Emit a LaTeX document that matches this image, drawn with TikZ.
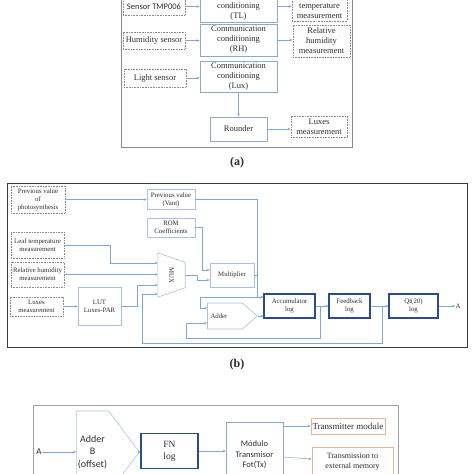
\documentclass[tikz,border=0pt]{standalone}
\usepackage{fontspec}
\setmainfont{Liberation Serif}
\newfontfamily\calibri{Carlito}
\definecolor{FigWire}{HTML}{7FA8D6}
\definecolor{FigEdge}{HTML}{8FA9C6}
\definecolor{FigLightEdge}{HTML}{A9C3DF}
\definecolor{FigNavy}{HTML}{2B4B8A}
\definecolor{FigDots}{HTML}{8C8C8C}
\definecolor{FigTan}{HTML}{E2B795}
\definecolor{FigFrame}{HTML}{8A8A8A}
\definecolor{FigDark}{HTML}{3A3A3A}
\definecolor{FigText}{HTML}{2E2E2E}
\usetikzlibrary{shapes.symbols,arrows.meta,calc,positioning}
\tikzset{
    % Plain boxes
    block/.style={
        rectangle,
        draw=FigEdge,
        line width=0.6pt,
        fill=white,
        text=FigText,
        align=center,
        inner sep=0pt,
        font=\fontsize{8.5}{10}\selectfont
    },
    block small/.style={
        block,
        draw=FigLightEdge,
        font=\fontsize{6.8}{8}\selectfont
    },
    block log/.style={
        block small,
        draw=FigNavy,
        line width=1.1pt
    },
    source/.style={
        block,
        draw=FigDots,
        densely dotted
    },
    source small/.style={
        block small,
        draw=FigDots,
        densely dotted
    },
    output tan/.style={
        block,
        draw=FigTan,
        line width=0.8pt,
        font=\fontsize{9}{11}\selectfont
    },
    adder shape/.style={
        signal,
        signal to=east,
        draw=FigLightEdge,
        line width=0.6pt,
        text=FigText,
        align=center,
        inner sep=0pt
    },
    wire/.style={
        -{Stealth[length=3pt,width=2.6pt]},
        draw=FigWire,
        line width=0.5pt
    },
    plain wire/.style={
        draw=FigWire,
        line width=0.5pt
    },
    caption/.style={
        font=\fontsize{12}{14}\selectfont\bfseries,
        text=FigText
    }
}
\begin{document}
\begin{tikzpicture}[x=1pt, y=-1pt]
    \useasboundingbox (0,0) rectangle (474,474);
    \clip (0,0) rectangle (474,474);

    % ---------- (a) ----------
    \draw[draw=FigFrame, line width=0.8pt] (121,-10) rectangle (352,147);
    \node[source, minimum width=62, minimum height=17, font=\calibri\fontsize{8.5}{10}\selectfont] (tmp) at (154,6.5) {Sensor TMP006};
    \node[source, minimum width=62, minimum height=17] (hum) at (154,40.5) {Humidity sensor};
    \node[source, minimum width=62, minimum height=18] (light) at (155,78) {Light sensor};
    \node[block, minimum width=77, minimum height=26] (condtl) at (238.5,9) {\mbox{}\\conditioning\\(TL)};
    \node[block, minimum width=77, minimum height=32] (condrh) at (238.5,40) {Communication\\conditioning\\(RH)};
    \node[block, minimum width=77, minimum height=31] (condlux) at (238.5,76.5) {Communication\\conditioning\\(Lux)};
    \node[block, minimum width=57, minimum height=24] (rounder) at (238.5,129) {Rounder};
    \node[source, minimum width=55, minimum height=24] (tempm) at (319.5,9) {\mbox{}\\temperature\\measurement};
    \node[source, minimum width=57, minimum height=32] (rhm) at (321.5,41) {Relative\\humidity\\measurement};
    \node[source, minimum width=56, minimum height=21] (luxm) at (319,126.5) {Luxes\\measurement};
    \node[caption] (capa) at (237,163) {(a)};

    \draw[wire] (tmp) -- (tmp -| condtl.west);
    \draw[wire] (hum) -- (hum -| condrh.west);
    \draw[wire] (light) -- (light -| condlux.west);
    \draw[wire] (tmp -| condtl.east) -- (tmp -| tempm.west);
    \draw[wire] (condrh) -- (condrh -| rhm.west);
    \draw[wire] (condlux) -- (rounder);
    \draw[wire] (rounder) -- (rounder -| luxm.west);

    % ---------- (b) ----------
    \draw[draw=FigDark, line width=1pt] (7,183) rectangle (467,347);
    \node[source small, minimum width=54, minimum height=27] (prevph) at (38,199.5) {Previous value\\of\\photosynthesis};
    \node[block small, minimum width=48, minimum height=20] (vant) at (171,199.5) {Previous value\\(Vant)};
    \node[block small, minimum width=48, minimum height=19] (rom) at (171,227.5) {ROM\\Coefficients};
    \node[source small, minimum width=53, minimum height=26] (leaf) at (37.5,245) {Leaf temperature\\measurement};
    \node[source small, minimum width=53, minimum height=25] (rhb) at (37.5,274.5) {Relative humidity\\measurement};
    \node[source small, minimum width=53, minimum height=19] (luxb) at (36.5,306.5) {Luxes\\measurement};
    \node[block small, minimum width=43, minimum height=38] (lut) at (99.5,306.5) {LUT\\Luxes-PAR};
    \node[inner sep=0pt, minimum width=27, minimum height=44] (mux) at (171.5,275) {};
    \draw[draw=FigLightEdge, line width=0.6pt, fill=white] (mux.north west) -- ($(mux.north east)+(0,9.5)$) -- ($(mux.south east)+(0,-9.5)$) -- (mux.south west) -- cycle;
    \node[rotate=-90, text=FigText, font=\fontsize{6.8}{8}\selectfont] at (mux) {MUX};
    \node[block small, minimum width=44, minimum height=24] (mult) at (232,275) {Multiplier};
    \node[adder shape, minimum width=50, minimum height=26, signal pointer angle=82, font=\fontsize{6.8}{8}\selectfont] (adder) at (225,316) {Adder\hspace{12pt}};
    \node[block log, minimum width=51, minimum height=24] (acc) at (289.5,306) {Accumulator\\log};
    \node[block log, minimum width=41, minimum height=24] (fb) at (349.5,306) {Feedback\\log};
    \node[block log, minimum width=49, minimum height=24] (qt) at (413.5,306) {Qt(20)\\log};
    \node[text=FigText, font=\fontsize{6.8}{8}\selectfont, inner sep=0pt] (outa) at (458,306) {A};
    \coordinate (jv) at (257,297);
    \node[caption] (capb) at (237,365) {(b)};

    \draw[wire] (prevph) -- (prevph -| vant.west);
    \draw[wire] (vant.east) -| (jv) -- (jv -| acc.west);
    \draw[plain wire] (mult.east) -- (mult.east -| jv);
    \draw[wire] (jv) -| ($(adder.west)+(-7,-8)$) -- ($(adder.west)+(0,-8)$);
    \draw[wire] (rom.east) -| ($(mult.west)+(-7,-5)$) -- ($(mult.west)+(0,-5)$);
    \draw[wire] (mux.east) -- ++(12,0) |- ($(mult.west)+(0,5)$);
    \draw[wire] (leaf.east) -| ($(mux.west)+(-48,-12)$) -- ($(mux.west)+(0,-12)$);
    \draw[wire] (rhb.east) -- (rhb.east -| mux.west);
    \draw[wire] (lut.east) -| ($(mux.west)+(-21,10)$) -- ($(mux.west)+(0,10)$);
    \draw[wire] (luxb) -- (luxb -| lut.west);
    \draw[wire] (adder.east) -- (adder.east -| acc.west);
    \draw[wire] (acc) -- (fb);
    \draw[wire] (fb) -- (qt);
    \draw[wire] (qt) -- (outa);
    \draw[wire] ($(acc.east)+(5,0)$) -- ++(0,32) -| ($(adder.west)+(-21,7)$) -- ($(adder.west)+(0,7)$);
    \draw[wire] ($(fb.east)+(12,0)$) -- ++(0,37) -| ($(mux.west)+(-16,19)$) -- ($(mux.west)+(0,19)$);

    % ---------- (c) ----------
    \draw[draw=FigFrame!80, line width=0.8pt] (33,405) rectangle (398,490);
    \node[text=FigText, font=\calibri\fontsize{9}{11}\selectfont, inner sep=0pt] (ina) at (39,452) {A};
    \node[adder shape, minimum width=63, minimum height=82, signal pointer angle=106, font=\calibri\fontsize{10}{12.5}\selectfont] (adderb) at (92.5,452) {Adder\\B\\(offset)\hspace{14pt}};
    \node[block, draw=FigNavy, line width=1.3pt, minimum width=57, minimum height=35, font=\fontsize{9.5}{12}\selectfont] (fn) at (169.5,451) {FN\\log};
    \node[block, minimum width=57, minimum height=66, font=\calibri\fontsize{8.5}{10.5}\selectfont] (mod) at (254.5,455) {Módulo\\Transmisor\\Fot(Tx)};
    \node[output tan, minimum width=74, minimum height=16] (txm) at (348,426) {Transmitter module};
    \node[output tan, minimum width=81, minimum height=30, font=\fontsize{8}{10}\selectfont] (ext) at (352.5,462) {Transmission to\\external memory};

    \draw[wire] (ina) -- (ina -| adderb.west);
    \draw[wire] (adderb.east) -- (adderb.east -| fn.west);
    \draw[wire] (fn.east) -- (fn.east -| mod.west);
    \draw[wire] (mod.east |- txm) -- (txm.west);
    \draw[wire] ($(mod.east)+(0,2)$) -- ($(ext.west)+(0,-3)$);
\end{tikzpicture}
\end{document}
